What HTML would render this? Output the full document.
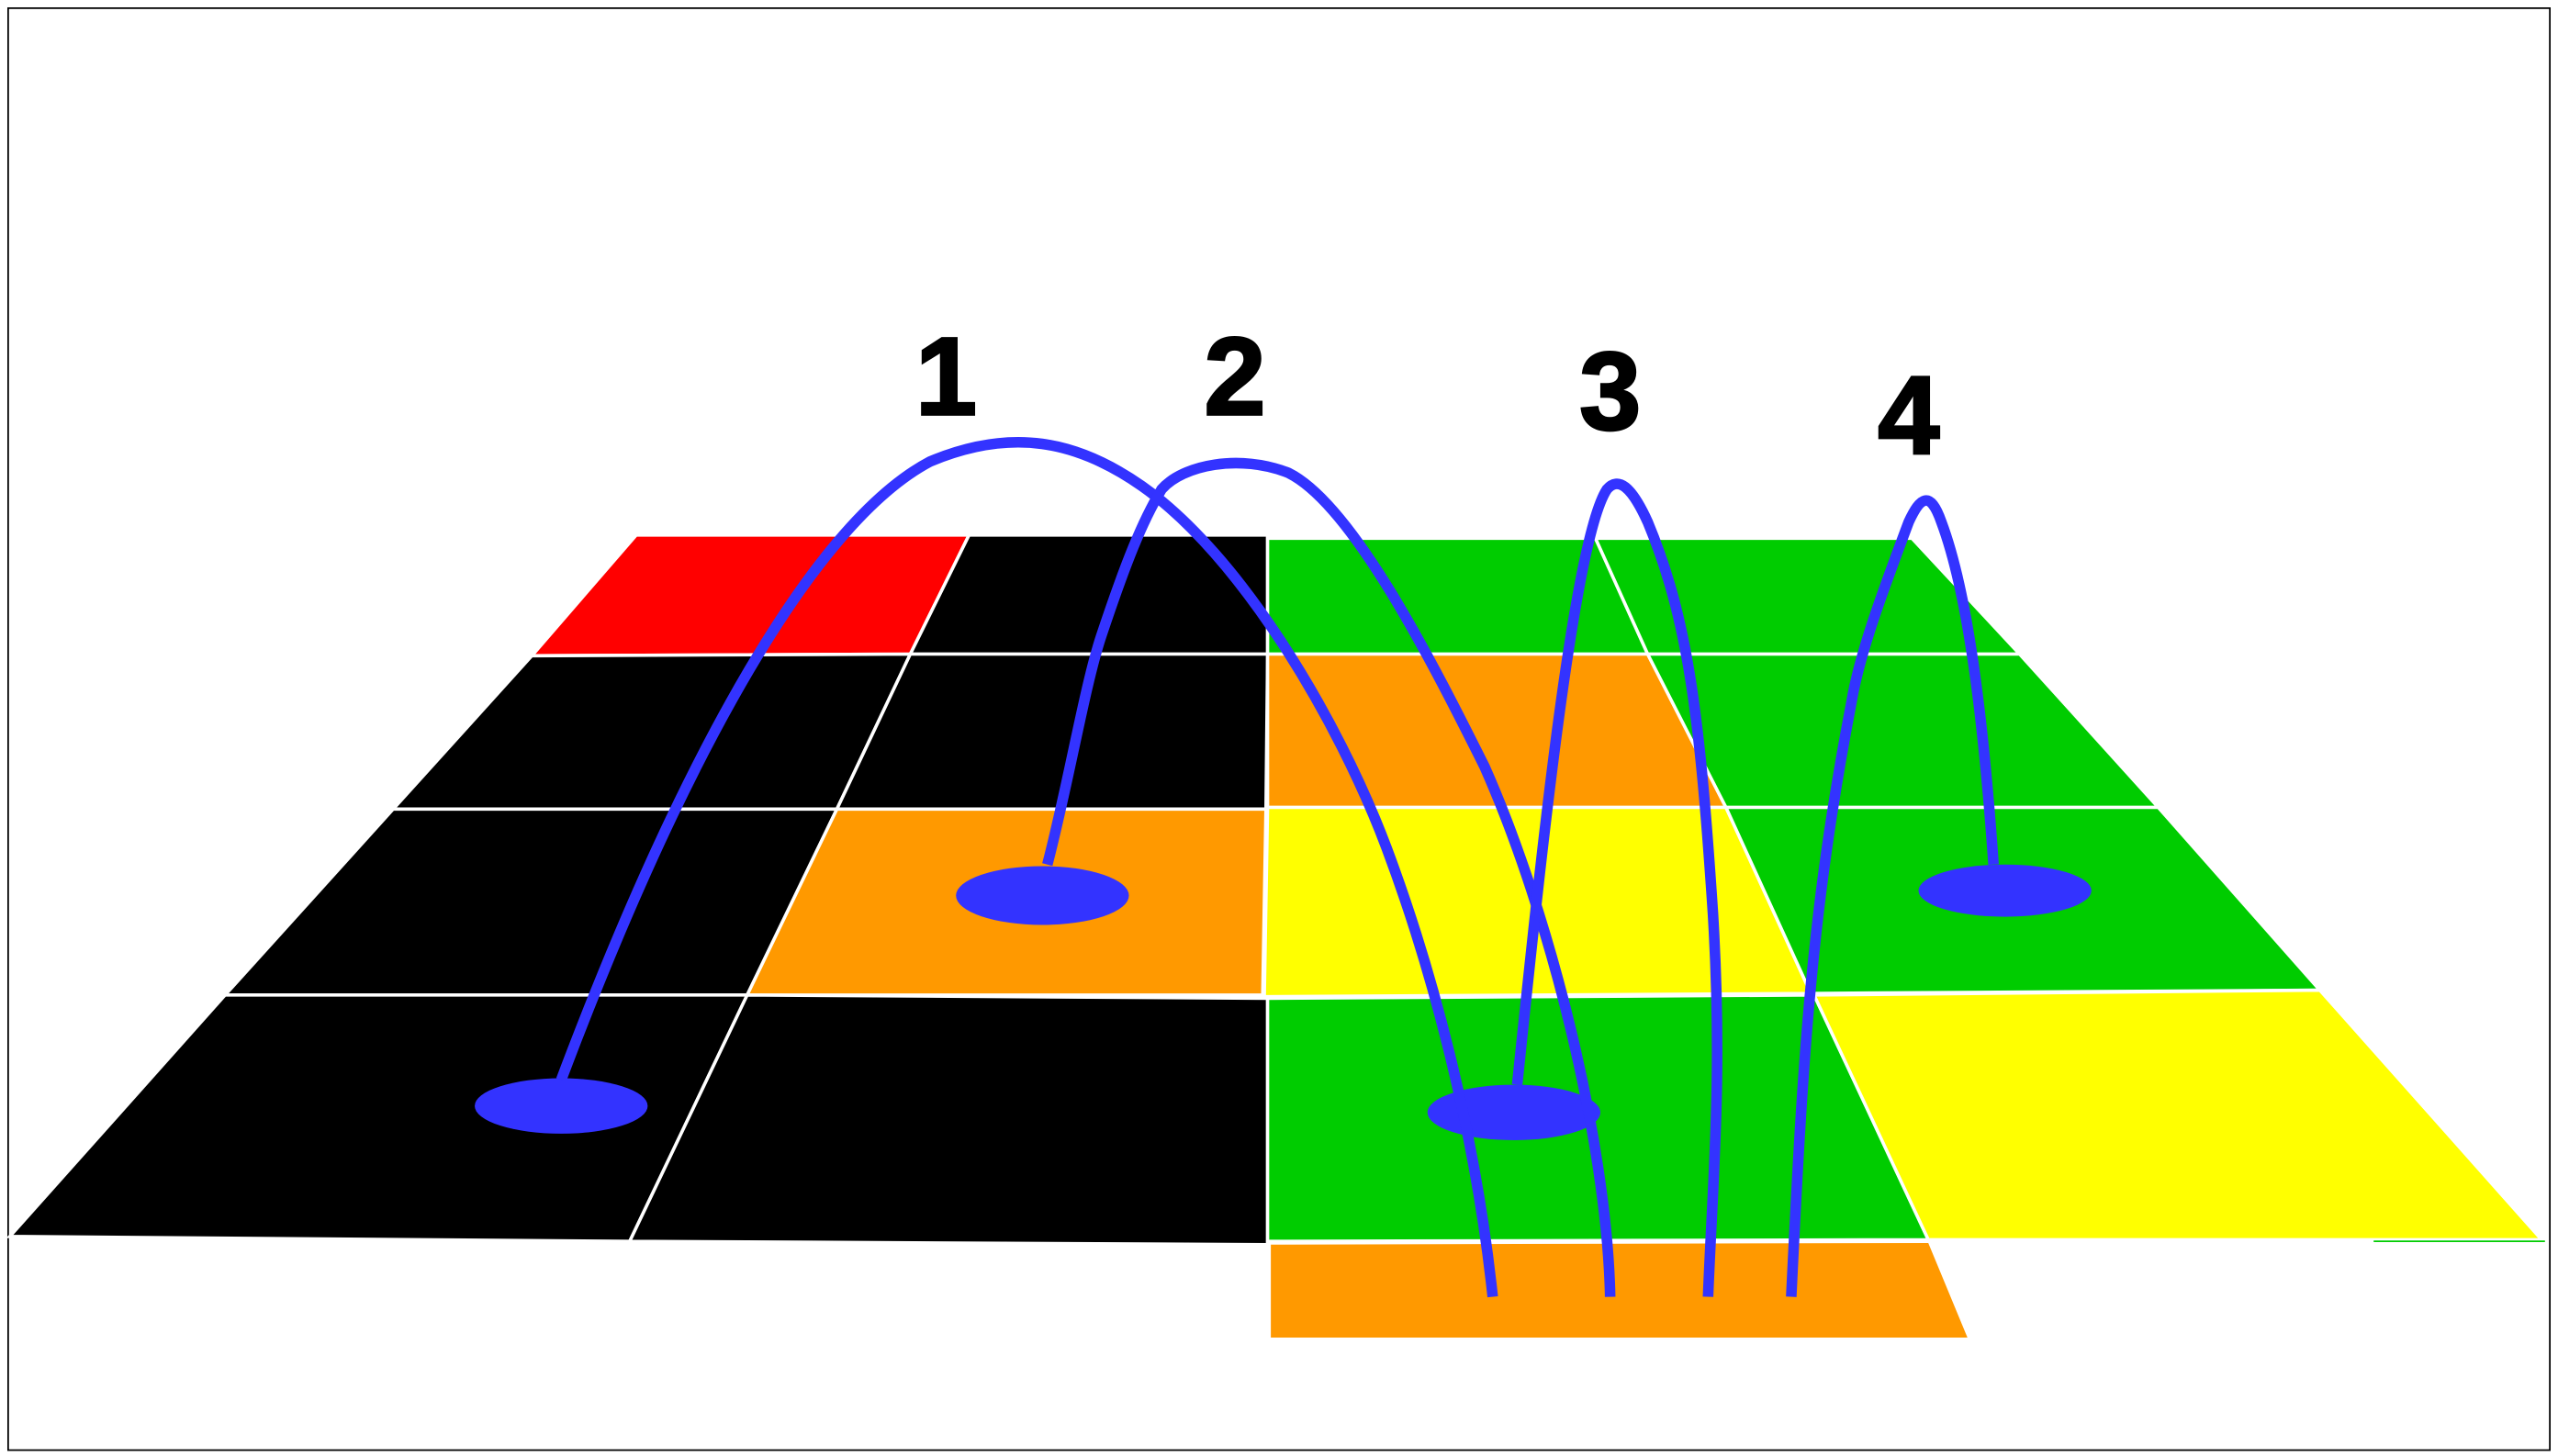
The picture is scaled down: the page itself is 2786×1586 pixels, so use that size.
<!DOCTYPE html>
<html><head><style>html,body{margin:0;padding:0;background:#fff}svg{display:block}</style></head>
<body>
<svg width="2786" height="1586" viewBox="0 0 1568 892.6" preserveAspectRatio="none" xmlns="http://www.w3.org/2000/svg">
<rect x="5" y="5" width="1558" height="884" fill="#fff" stroke="#000" stroke-width="1"/>
<g stroke="#fff" stroke-width="2">
<polygon points="390,328 594,328 558,401 326,402" fill="#ff0000"/>
<polygon points="594,328 777,328 777,401 558,401" fill="#000"/>
<polygon points="326,402 558,401 513,496 241,496" fill="#000"/>
<polygon points="558,401 777,401 776,496 513,496" fill="#000"/>
<polygon points="241,496 513,496 458,610 138,610" fill="#000"/>
<polygon points="513,496 776,496 774,610 458,610" fill="#ff9900"/>
<polygon points="138,610 458,610 386,761 6,758" fill="#000"/>
<polygon points="458,610 777,612 777,763 386,761" fill="#000"/>
<polygon points="777,330 978,330 1010,401 777,401" fill="#00cc00"/>
<polygon points="978,330 1172,330 1238,401 1010,401" fill="#00cc00"/>
<polygon points="777,401 1010,401 1058,495 777,495" fill="#ff9900"/>
<polygon points="1010,401 1238,401 1323,495 1058,495" fill="#00cc00"/>
<polygon points="777,495 1058,495 1110,609 775,611" fill="#ffff00"/>
<polygon points="1058,495 1323,495 1422,607 1110,609" fill="#00cc00"/>
<polygon points="777,612 1112,610 1182,760 777,761" fill="#00cc00"/>
<polygon points="1112,610 1422,607 1558,760 1182,760" fill="#ffff00"/>
</g>
<polygon points="779,763 1182,762 1206,820 779,820" fill="#ff9900"/>
<line x1="1455" y1="761" x2="1560" y2="761" stroke="#00cc00" stroke-width="1"/>
<g fill="#3333ff">
<ellipse cx="344" cy="678" rx="53" ry="17"/>
<ellipse cx="639" cy="549" rx="53" ry="18"/>
<ellipse cx="928" cy="682" rx="53" ry="17"/>
<ellipse cx="1229" cy="546" rx="53" ry="16"/>
</g>
<g fill="none" stroke="#3333ff" stroke-width="6.5">
<path d="M344,662 C420,460 500,320 570,283 C620,262 660,270 700,298 C760,340 820,440 850,520 C880,600 905,700 915,795"/>
<path d="M642,530 C655,480 665,420 675,390 C690,345 700,320 712,300 C725,285 760,278 790,290 C830,310 880,410 910,470 C950,560 985,700 987,795"/>
<path d="M930,665 C945,520 965,330 985,300 C992,292 1000,298 1010,320 C1035,380 1042,440 1050,560 C1056,660 1050,720 1047,795"/>
<path d="M1222,530 C1215,430 1205,360 1190,320 C1183,300 1177,305 1170,320 C1155,360 1140,400 1135,430 C1110,560 1105,650 1098,795"/>
</g>
<g font-family="Liberation Sans, sans-serif" font-weight="bold" font-size="68" fill="#000" text-anchor="middle" stroke="#000" stroke-width="1.5">
<text x="580" y="254">1</text>
<text x="757" y="254">2</text>
<text x="987" y="263">3</text>
<text x="1170" y="278">4</text>
</g>
</svg>
</body></html>
